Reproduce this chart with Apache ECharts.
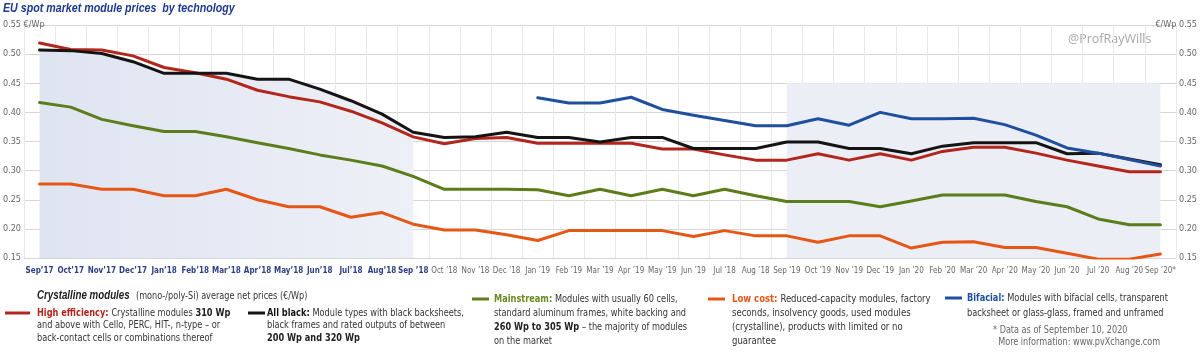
<!DOCTYPE html>
<html><head><meta charset="utf-8">
<script src="https://cdn.jsdelivr.net/npm/echarts@6/dist/echarts.min.js"></script>
<style>html,body{margin:0;padding:0;background:#fff}#c{width:1200px;height:355px}</style>
</head><body><div id="c"></div>
<script>
// ---- data ----
const months = ["Sep’17","Oct’17","Nov’17","Dec’17","Jan’18","Feb’18","Mar’18","Apr’18","May’18","Jun’18","Jul’18","Aug’18","Sep ’18",
  "Oct ’18","Nov ’18","Dec ’18","Jan ’19","Feb ’19","Mar ’19","Apr ’19","May ’19","Jun ’19","Jul ’18","Aug ’18","Sep ’19",
  "Oct ’19","Nov ’19","Dec ’19","Jan ’20","Feb ’20","Mar ’20","Apr ’20","May ’20","Jun ’20","Jul ’20","Aug ’20","Sep ’20*"];
const highEfficiency = [0.519,0.508,0.507,0.497,0.477,0.468,0.457,0.438,0.427,0.418,0.402,0.382,0.358,
  0.346,0.355,0.357,0.347,0.347,0.347,0.347,0.337,0.337,0.327,0.318,0.318,
  0.329,0.318,0.329,0.318,0.333,0.340,0.340,0.330,0.318,0.308,0.298,0.298];
const allBlack = [0.507,0.506,0.501,0.487,0.467,0.467,0.467,0.457,0.457,0.440,0.420,0.397,0.366,
  0.357,0.358,0.366,0.357,0.357,0.349,0.357,0.357,0.338,0.338,0.338,0.349,
  0.349,0.338,0.338,0.329,0.342,0.348,0.348,0.348,0.329,0.330,0.320,0.310];
const mainstream = [0.417,0.409,0.388,0.377,0.367,0.367,0.358,0.348,0.338,0.327,0.318,0.308,0.290,
  0.268,0.268,0.268,0.267,0.257,0.268,0.257,0.268,0.257,0.268,0.257,0.247,
  0.247,0.247,0.238,0.248,0.258,0.258,0.258,0.247,0.238,0.217,0.207,0.207];
const lowCost = [0.277,0.277,0.268,0.268,0.257,0.257,0.268,0.250,0.238,0.238,0.220,0.228,0.208,
  0.198,0.198,0.190,0.180,0.197,0.197,0.197,0.197,0.187,0.197,0.188,0.188,
  0.177,0.188,0.188,0.167,0.177,0.178,0.168,0.168,0.158,0.148,0.148,0.157];
const bifacial = [null,null,null,null,null,null,null,null,null,null,null,null,null,
  null,null,null,0.425,0.416,0.416,0.426,0.405,0.395,0.386,0.377,0.377,
  0.389,0.378,0.400,0.389,0.389,0.390,0.379,0.361,0.339,0.330,0.319,0.308];
const yMin = 0.15, yMax = 0.55, yStep = 0.05;
const firstPeriodEnd = 12;   // Sep '18
const secondPeriodStart = 24; // Sep '19

const C = {red:'#b3261b', black:'#141414', green:'#5c7d1c', orange:'#e65716', blue:'#1f4f9e'};
const NARROW = "'Liberation Sans Narrow','DejaVu Sans Condensed',sans-serif";
const SX = 0.83;

const chart = echarts.init(document.getElementById('c'), null, {renderer:'canvas'});
const line = (name, data, color, z) => ({
  name, type:'line', data, symbol:'none', smooth:false, z,
  lineStyle:{color, width:3, cap:'round', join:'round'}, itemStyle:{color},
  connectNulls:false, silent:true, animation:false
});
const txt = (x, y, style, sx) => ({type:'text', x, y, scaleX: sx || SX, silent:true,
  style: Object.assign({align:'left', verticalAlign:'top'}, style)});

chart.setOption({
  animation:false,
  grid:{left:24, right:23, top:25, bottom:97},
  xAxis:{
    type:'category', data:months, boundaryGap:true,
    axisLine:{show:false}, axisTick:{show:false},
    splitLine:{show:true, interval:0, lineStyle:{color:'#e8e8e8', width:1}},
    axisLabel:{interval:0, margin:9, fontFamily:NARROW, fontSize:8,
      formatter:(v,i)=> i<=firstPeriodEnd ? '{a|'+v+'}' : '{b|'+v+'}',
      rich:{a:{color:'#2b3f86', fontWeight:'bold', fontFamily:NARROW, fontSize:8},
            b:{color:'#666', fontFamily:NARROW, fontSize:8}}}
  },
  yAxis:[{
    type:'value', min:yMin, max:yMax, interval:yStep, position:'left',
    axisLine:{show:false}, axisTick:{show:false},
    splitLine:{show:true, lineStyle:{color:'#d6d6d6', width:1}},
    axisLabel:{align:'left', margin:21, color:'#666', fontFamily:NARROW, fontSize:9,
      formatter:v=> Math.abs(v-yMax)<1e-6 ? v.toFixed(2)+' €/Wp' : v.toFixed(2)}
  },{
    type:'value', min:yMin, max:yMax, interval:yStep, position:'right',
    axisLine:{show:false}, axisTick:{show:false}, splitLine:{show:false},
    axisLabel:{align:'right', margin:21, color:'#666', fontFamily:NARROW, fontSize:9,
      formatter:v=> Math.abs(v-yMax)<1e-6 ? '€/Wp '+v.toFixed(2) : v.toFixed(2)}
  }],
  series:[
    {name:'shade', type:'line', data: allBlack.map((v,i)=> i<=firstPeriodEnd ? v : null),
     symbol:'none', silent:true, z:1, lineStyle:{width:0},
     areaStyle:{origin:'start', opacity:1, color:new echarts.graphic.LinearGradient(0,0,1,0,[{offset:0,color:'#dfe4f1'},{offset:1,color:'#eef0f7'}])},
     markArea:{silent:true, itemStyle:{color:'#eceef6'},
       data:[[{xAxis:secondPeriodStart, yAxis:yMin},{xAxis:months.length-1, yAxis:0.45}]]}},
    line('Low cost', lowCost, C.orange, 3),
    line('Mainstream', mainstream, C.green, 3),
    line('High efficiency', highEfficiency, C.red, 4),
    line('All black', allBlack, C.black, 5),
    line('Bifacial', bifacial, C.blue, 6)
  ],
  graphic:[
    txt(3, 2, {text:'EU spot market module prices  by technology', fill:'#1c3a8c',
      font:"italic bold 13px 'Liberation Sans','Liberation Sans Narrow',sans-serif"}, 0.82),
    txt(1068, 33, {text:'@ProfRayWills', fill:'#a6a6a6', font:"12.5px 'Open Sans',sans-serif"}, 1),
    txt(37, 289, {text:'Crystalline modules', font:"italic bold 12.5px 'Liberation Sans',sans-serif", fill:'#222'}, 0.78),
    txt(136, 290.5, {text:'(mono-/poly-Si) average net prices (€/Wp)', font:"10.5px "+NARROW, fill:'#333'}, 0.86),
    // legend dashes
    {type:'rect', shape:{x:5, y:311.5, width:25, height:3}, style:{fill:C.red}},
    {type:'rect', shape:{x:248, y:311.5, width:17, height:3}, style:{fill:C.black}},
    {type:'rect', shape:{x:472, y:297.5, width:17, height:3}, style:{fill:C.green}},
    {type:'rect', shape:{x:708, y:297.5, width:17, height:3}, style:{fill:C.orange}},
    {type:'rect', shape:{x:945, y:296.5, width:17, height:3}, style:{fill:C.blue}},
    // legend texts
    txt(37, 306.5, {text:'{c|High efficiency:} {n|Crystalline modules} {b|310 Wp}\n{n|and above with Cello, PERC, HIT-, n-type – or}\n{n|back-contact cells or combinations thereof}',
      rich:{c:{font:"bold 11px "+NARROW, fill:C.red, lineHeight:12.7}, n:{font:"11px "+NARROW, fill:'#333', lineHeight:12.7}, b:{font:"bold 11px "+NARROW, fill:'#222', lineHeight:12.7}}}),
    txt(267, 306.5, {text:'{c|All black:} {n|Module types with black backsheets,}\n{n|black frames and rated outputs of between}\n{b|200 Wp and 320 Wp}',
      rich:{c:{font:"bold 11px "+NARROW, fill:C.black, lineHeight:12.7}, n:{font:"11px "+NARROW, fill:'#333', lineHeight:12.7}, b:{font:"bold 11px "+NARROW, fill:'#222', lineHeight:12.7}}}),
    txt(494, 292, {text:'{c|Mainstream:} {n|Modules with usually 60 cells,}\n{n|standard aluminum frames, white backing and}\n{b|260 Wp to 305 Wp} {n|– the majority of modules}\n{n|on the market}',
      rich:{c:{font:"bold 11px "+NARROW, fill:'#6a8a22', lineHeight:13.9}, n:{font:"11px "+NARROW, fill:'#333', lineHeight:13.9}, b:{font:"bold 11px "+NARROW, fill:'#222', lineHeight:13.9}}}),
    txt(732, 292, {text:'{c|Low cost:} {n|Reduced-capacity modules, factory}\n{n|seconds, insolvency goods, used modules}\n{n|(crystalline), products with limited or no}\n{n|guarantee}',
      rich:{c:{font:"bold 11px "+NARROW, fill:C.orange, lineHeight:13.9}, n:{font:"11px "+NARROW, fill:'#333', lineHeight:13.9}}}, 0.86),
    txt(967, 291, {text:'{c|Bifacial:} {n|Modules with bifacial cells, transparent}\n{n|backsheet or glass-glass, framed and unframed}',
      rich:{c:{font:"bold 11px "+NARROW, fill:C.blue, lineHeight:14.5}, n:{font:"11px "+NARROW, fill:'#333', lineHeight:14.5}}}),
    txt(993, 324, {text:'* Data as of September 10, 2020\n  More information: www.pvXchange.com',
      font:"10.5px "+NARROW, fill:'#666', lineHeight:12.5}, 0.86)
  ]
});
</script></body></html>
